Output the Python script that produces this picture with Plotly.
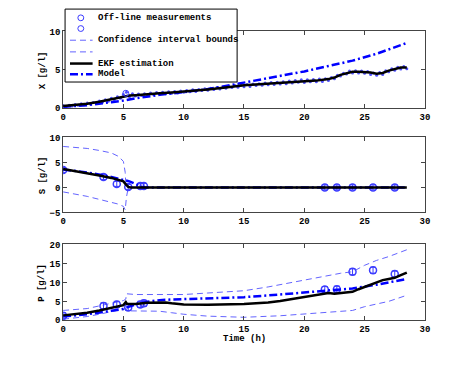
import plotly.graph_objects as go

# ---------------- data ----------------
# X panel
t_x_ekf = [0, 1, 2, 3, 4, 5, 5.5, 6, 7, 8, 9, 10, 11, 12, 13, 14, 15, 16, 17, 18, 19, 20, 21, 22,
           22.5, 23, 23.5, 24, 24.5, 25, 25.5, 26, 26.5, 27, 27.5, 28, 28.5]
x_ekf = [0.3, 0.45, 0.6, 0.85, 1.2, 1.55, 1.65, 1.7, 1.85, 1.95, 2.05, 2.15, 2.3, 2.45, 2.6, 2.8, 3.0,
         3.1, 3.2, 3.3, 3.45, 3.55, 3.6, 3.8, 4.0, 4.35, 4.6, 4.75, 4.75, 4.7, 4.65, 4.5, 4.6, 4.9,
         5.1, 5.3, 5.3]
t_x_model = [0, 2, 4, 5, 6, 8, 10, 12, 14, 16, 18, 20, 22, 24, 26, 28.5]
x_model = [0.2, 0.4, 0.8, 1.0, 1.3, 1.75, 2.1, 2.5, 3.05, 3.6, 4.2, 4.8, 5.5, 6.2, 7.1, 8.5]
x_online = [0.35, 0.2, 0.4, 0.3, 0.5, 0.4, 0.6, 0.45, 0.7, 0.55, 0.75, 0.65, 0.95, 0.8, 1.1, 0.9,
            1.3, 1.1, 1.5, 1.3, 1.8, 2.1, 1.5, 1.9, 1.6, 1.85, 1.65, 1.9, 1.75, 2.0, 1.8, 2.05,
            1.85, 2.1, 1.9, 2.15, 1.95, 2.2, 2.0, 2.25, 2.1, 2.3, 2.15, 2.4, 2.2, 2.45, 2.3, 2.55,
            2.35, 2.6, 2.45, 2.7, 2.5, 2.75, 2.6, 2.85, 2.7, 2.95, 2.75, 3.0, 2.8, 3.1, 2.85, 3.15,
            2.95, 3.2, 3.0, 3.3, 3.05, 3.35, 3.1, 3.4, 3.15, 3.45, 3.2, 3.55, 3.3, 3.6, 3.4, 3.7,
            3.35, 3.7, 3.45, 3.75, 3.45, 3.8, 3.5, 3.85, 3.6, 4.0, 3.85, 4.3, 4.2, 4.55, 4.45, 4.85,
            4.6, 4.9, 4.6, 4.85, 4.55, 4.8, 4.4, 4.6, 4.3, 4.65, 4.4, 4.9, 4.75, 5.15, 4.95, 5.35,
            5.1, 5.45, 5.15]
t_online = [i * 0.25 for i in range(len(x_online))]
t_x_meas = [5.2]
x_meas = [1.95]

# S panel
t_s_ekf = [0, 1, 2, 3, 4, 4.5, 5.0, 5.2, 5.4, 5.6, 28.5]
s_ekf = [3.7, 3.3, 2.9, 2.4, 1.9, 1.6, 1.2, 0.6, 0.1, 0.0, 0.0]
t_s_model = [0, 2, 4, 5, 5.5, 6, 6.5, 6.8, 28.5]
s_model = [3.6, 3.0, 2.1, 1.55, 1.2, 0.7, 0.15, 0.0, 0.0]
t_s_up = [0, 1, 2, 3, 4, 4.6, 5.0, 5.15, 5.2, 5.4, 28.5]
s_up = [8.2, 8.0, 7.8, 7.4, 6.9, 6.2, 5.2, 3.0, 0.5, 0.05, 0.05]
t_s_lo = [0, 1, 2, 3, 4, 4.5, 5.0, 5.15, 5.25, 5.4, 28.5]
s_lo = [-0.9, -1.3, -1.8, -2.4, -2.9, -3.3, -3.8, -4.5, -2.0, -0.05, -0.05]
t_meas = [0, 3.35, 4.45, 5.4, 6.4, 6.7, 21.7, 22.7, 24.0, 25.7, 27.5]
s_meas = [3.5, 2.1, 0.7, 0.1, 0.3, 0.3, 0.0, 0.0, 0.0, 0.0, 0.0]
s_err = [0.5] * len(s_meas)

# P panel
t_p_ekf = [0, 1, 2, 3, 4, 5, 5.2, 5.3, 5.5, 6, 7, 8, 8.5, 9, 9.5, 10, 12, 14, 15, 16, 17, 18, 19,
           20, 21, 22, 22.5, 23, 24, 24.5, 25, 25.5, 26, 26.5, 27, 27.5, 28, 28.5]
p_ekf = [1.3, 1.6, 2.0, 2.6, 3.2, 4.0, 4.8, 4.3, 4.3, 4.3, 4.6, 4.7, 4.7, 4.5, 4.3, 4.2, 4.1, 4.2,
         4.3, 4.5, 4.7, 5.1, 5.6, 6.1, 6.6, 7.2, 7.0, 7.2, 7.5, 8.2, 8.8, 9.4, 10.2, 10.6, 10.9,
         11.2, 11.9, 12.6]
t_p_model = [0, 2, 4, 5, 5.3, 6, 7, 8, 9, 10, 12, 15, 18, 20, 22, 24, 26, 28.5]
p_model = [1.0, 1.6, 2.5, 3.0, 3.4, 4.2, 4.9, 5.3, 5.5, 5.6, 5.8, 6.1, 6.8, 7.3, 7.8, 8.4, 9.4, 10.9]
t_p_up = [0, 1, 2, 3, 4, 5, 5.2, 5.25, 6, 8, 10, 12, 15, 17, 20, 22, 23, 24, 25, 26, 27, 28.5]
p_up = [2.6, 2.8, 3.1, 3.8, 4.4, 5.2, 5.6, 7.0, 6.8, 6.8, 6.8, 7.2, 7.8, 8.8, 10.6, 11.9, 12.4,
        12.8, 14.5, 15.8, 16.8, 18.6]
t_p_lo = [0, 2, 3, 4, 5.2, 5.3, 7, 8, 9, 10, 12, 14, 15, 18, 20, 22, 23, 24, 25, 26, 27, 28.5]
p_lo = [0.3, 1.0, 1.6, 2.3, 3.1, 2.5, 2.4, 2.4, 2.0, 1.6, 1.1, 0.8, 0.8, 1.2, 1.7, 2.2, 2.3, 2.6,
        3.6, 4.2, 5.0, 6.6]
p_meas = [1.2, 3.8, 4.2, 3.4, 4.2, 4.5, 8.1, 8.2, 12.8, 13.2, 12.2]
p_err = [0.8] * len(p_meas)

x_ticks = [0, 5, 10, 15, 20, 25, 30]
y_ticks = [[0, 5, 10], [-5, 0, 5, 10], [0, 5, 10, 15, 20]]
y_ranges = [[0, 10], [-5, 10], [0, 20]]
y_titles = ["X [g/l]", "S [g/l]", "P [g/l]"]
legend_labels = ["Off-line measurements", "", "Confidence interval bounds", "", "EKF estimation", "Model"]

# ---------------- style ----------------
W, H = 474, 365
OFF = 8  # page body margin offset
FONT = dict(family="Liberation Mono, Courier New, monospace", size=9, color="black", weight="bold")
BLUE = "rgb(0,0,255)"
MEAS = "rgb(60,60,255)"
BOUND = "rgb(100,100,255)"
BOUND_DASH = "6px,4px"
MODEL_DASH = "8px,3px,2px,3px"


def px(v):
    return (v - OFF) / W


def py(v):
    return 1 - (v - OFF) / H


x0p, x1p = px(61), px(429)
doms = [(py(107), py(28)), (py(214), py(137)), (py(325), py(247))]

fig = go.Figure()


def line(x, y, k, color, width, dash=None):
    fig.add_trace(go.Scatter(x=x, y=y, mode="lines", xaxis=f"x{k}", yaxis=f"y{k}",
                             line=dict(color=color, width=width, dash=dash), showlegend=False,
                             hoverinfo="skip"))


# X panel
fig.add_trace(go.Scatter(x=t_online, y=x_online, mode="markers", xaxis="x", yaxis="y",
                         marker=dict(color="rgb(80,80,255)", size=3), showlegend=False))
line(t_x_model, x_model, "", BLUE, 2.5, MODEL_DASH)
line(t_x_ekf, x_ekf, "", "black", 2.5)
fig.add_trace(go.Scatter(x=t_x_meas, y=x_meas, mode="markers", xaxis="x", yaxis="y",
                         marker=dict(symbol="circle-open", color=MEAS, size=6, line=dict(width=1)),
                         showlegend=False))

# S panel
line(t_s_up, s_up, 2, BOUND, 1, BOUND_DASH)
line(t_s_lo, s_lo, 2, BOUND, 1, BOUND_DASH)
fig.add_trace(go.Scatter(x=t_meas, y=s_meas, mode="markers", xaxis="x2", yaxis="y2",
                         error_y=dict(type="data", array=s_err, color=MEAS, thickness=1, width=3),
                         marker=dict(symbol="circle-open", color=MEAS, size=7, line=dict(width=1.5)),
                         showlegend=False))
line(t_s_model, s_model, 2, BLUE, 2.5, MODEL_DASH)
line(t_s_ekf, s_ekf, 2, "black", 2.5)

# P panel
line(t_p_up, p_up, 3, BOUND, 1, BOUND_DASH)
line(t_p_lo, p_lo, 3, BOUND, 1, BOUND_DASH)
fig.add_trace(go.Scatter(x=t_meas, y=p_meas, mode="markers", xaxis="x3", yaxis="y3",
                         error_y=dict(type="data", array=p_err, color=MEAS, thickness=1, width=3),
                         marker=dict(symbol="circle-open", color=MEAS, size=7, line=dict(width=1.5)),
                         showlegend=False))
line(t_p_model, p_model, 3, BLUE, 2.5, MODEL_DASH)
line(t_p_ekf, p_ekf, 3, "black", 2.5)

axis_common = dict(showline=True, linecolor="#444", linewidth=1, mirror="ticks", ticks="inside",
                   ticklen=4, tickcolor="#444", showgrid=False, zeroline=False, tickfont=FONT)
layout = dict(width=W, height=H, margin=dict(l=0, r=0, t=0, b=0), plot_bgcolor="white",
              paper_bgcolor="white", showlegend=False)
for i in range(3):
    sx = "" if i == 0 else str(i + 1)
    layout[f"xaxis{sx}"] = dict(axis_common, domain=[x0p, x1p], range=[0, 30], tickvals=x_ticks,
                                anchor=f"y{sx}")
    layout[f"yaxis{sx}"] = dict(axis_common, domain=list(doms[i]), range=y_ranges[i],
                                tickvals=y_ticks[i], anchor=f"x{sx}")
fig.update_layout(**layout)

annotations = []
for i in range(3):
    annotations.append(dict(x=px(40), y=(doms[i][0] + doms[i][1]) / 2, xref="paper", yref="paper",
                            text=y_titles[i], textangle=-90, showarrow=False, font=FONT,
                            xanchor="center", yanchor="middle"))
annotations.append(dict(x=px(245), y=py(344), xref="paper", yref="paper", text="Time (h)",
                        showarrow=False, font=FONT, xanchor="center", yanchor="middle"))

# manual legend
shapes = [dict(type="rect", xref="paper", yref="paper", x0=px(63), x1=px(238), y0=py(80),
               y1=py(5), line=dict(color="black", width=1), fillcolor="white", layer="above")]
rows = [14, 25, 37, 49, 61, 72]
for r, lab in zip(rows, legend_labels):
    annotations.append(dict(x=px(94), y=py(r), xref="paper", yref="paper", text=lab, showarrow=False,
                            font=FONT, xanchor="left", yanchor="middle"))
for r in rows[:2]:
    shapes.append(dict(type="circle", xref="paper", yref="paper", x0=px(76), x1=px(82),
                       y0=py(r + 3), y1=py(r - 3), line=dict(color=MEAS, width=1),
                       layer="above"))
for r in rows[2:4]:
    shapes.append(dict(type="line", xref="paper", yref="paper", x0=px(68), x1=px(91),
                       y0=py(r), y1=py(r), line=dict(color=BOUND, width=1, dash=BOUND_DASH),
                       layer="above"))
shapes.append(dict(type="line", xref="paper", yref="paper", x0=px(68), x1=px(91), y0=py(rows[4]),
                   y1=py(rows[4]), line=dict(color="black", width=2.5), layer="above"))
shapes.append(dict(type="line", xref="paper", yref="paper", x0=px(68), x1=px(91), y0=py(rows[5]),
                   y1=py(rows[5]), line=dict(color=BLUE, width=2.5, dash=MODEL_DASH),
                   layer="above"))
fig.update_layout(annotations=annotations, shapes=shapes)

fig.write_html("out.html")
